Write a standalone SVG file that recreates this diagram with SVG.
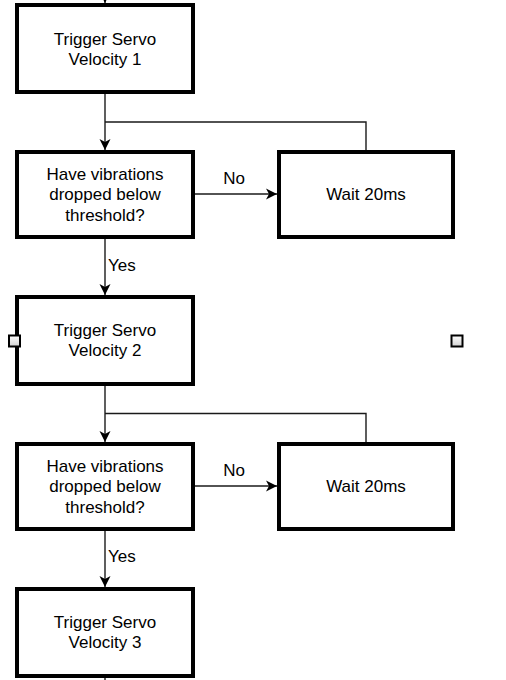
<svg xmlns="http://www.w3.org/2000/svg" width="506" height="680" viewBox="0 0 506 680">
<style>
.box{fill:#fff;stroke:#000;stroke-width:4}
.t{font-family:"Liberation Sans",Arial,sans-serif;font-size:17px;fill:#000;text-anchor:middle}
.lbl{font-family:"Liberation Sans",Arial,sans-serif;font-size:17px;fill:#000}
.c{fill:none;stroke:#1a1a1a;stroke-width:1.4}
.h{stroke:#000;stroke-width:2}
</style>
<defs>
<marker id="arr" viewBox="0 0 12 12" refX="11" refY="6" markerWidth="12" markerHeight="12" markerUnits="userSpaceOnUse" orient="auto">
<path d="M0,0.5 L11,6 L0,11.5 L3,6 Z" fill="#000"/>
</marker>
<linearGradient id="hg" x1="0" y1="0" x2="0" y2="1">
<stop offset="0" stop-color="#ffffff"/>
<stop offset="1" stop-color="#d0d0d0"/>
</linearGradient>
</defs>
<rect width="506" height="680" fill="#fff"/>
<g id="connectors">
<path class="c" d="M105,-20 V3" marker-end="url(#arr)"/>
<path class="c" d="M105,93 V150" marker-end="url(#arr)"/>
<path class="c" d="M366,151 V122 H105"/>
<path class="c" d="M193,194 H277" marker-end="url(#arr)"/>
<path class="c" d="M105,239 V295" marker-end="url(#arr)"/>
<path class="c" d="M105,385 V442" marker-end="url(#arr)"/>
<path class="c" d="M366,443 V413.5 H105"/>
<path class="c" d="M193,486 H277" marker-end="url(#arr)"/>
<path class="c" d="M105,531 V587" marker-end="url(#arr)"/>
<path class="c" d="M105,677 V700"/>
<text class="lbl" x="234" y="184" text-anchor="middle">No</text>
<text class="lbl" x="108" y="271">Yes</text>
<text class="lbl" x="234" y="476" text-anchor="middle">No</text>
<text class="lbl" x="108" y="562">Yes</text>
</g>
<g id="n1">
<rect class="box" x="17" y="5" width="176" height="87"/>
<text class="t" x="105" y="45">Trigger Servo</text>
<text class="t" x="105" y="65">Velocity 1</text>
</g>
<g id="n2">
<rect class="box" x="17" y="152" width="176" height="85"/>
<text class="t" x="105" y="180">Have vibrations</text>
<text class="t" x="105" y="200">dropped below</text>
<text class="t" x="105" y="220.5">threshold?</text>
</g>
<g id="n3">
<rect class="box" x="279" y="152" width="174" height="85"/>
<text class="t" x="366" y="200">Wait 20ms</text>
</g>
<g id="n4">
<rect class="box" x="17" y="297" width="176" height="87"/>
<text class="t" x="105" y="336">Trigger Servo</text>
<text class="t" x="105" y="356">Velocity 2</text>
</g>
<g id="n5">
<rect class="box" x="17" y="444" width="176" height="85"/>
<text class="t" x="105" y="472">Have vibrations</text>
<text class="t" x="105" y="492">dropped below</text>
<text class="t" x="105" y="512.5">threshold?</text>
</g>
<g id="n6">
<rect class="box" x="279" y="444" width="174" height="85"/>
<text class="t" x="366" y="492">Wait 20ms</text>
</g>
<g id="n7">
<rect class="box" x="17" y="589" width="176" height="87"/>
<text class="t" x="105" y="628">Trigger Servo</text>
<text class="t" x="105" y="648">Velocity 3</text>
</g>
<g id="handles">
<rect class="h" x="9" y="335.5" width="11" height="11" fill="url(#hg)"/>
<rect class="h" x="451.5" y="335.5" width="11" height="11" fill="url(#hg)"/>
</g>
</svg>
